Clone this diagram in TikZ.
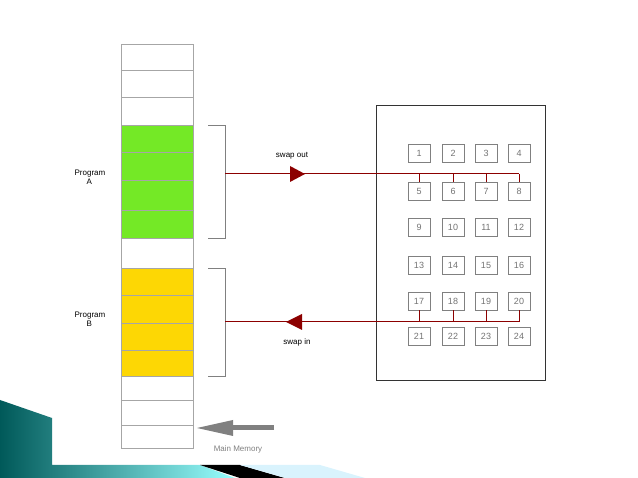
\documentclass[tikz,border=0pt]{standalone}
\usepackage{fontspec}
\setmainfont{Liberation Sans}
\begin{document}
\begin{tikzpicture}[x=1pt,y=-1pt,
  mem/.style={draw=gray!70,line width=0.8pt},
  cell/.style={draw=gray,line width=0.6pt,minimum width=22pt,minimum height=18pt,inner sep=0pt,font=\fontsize{9}{10}\selectfont,text=gray!90!black},
  swap/.style={draw=red!55!black,line width=1pt},
  lbl/.style={font=\fontsize{8}{9}\selectfont,align=left}]
\useasboundingbox (0,0) rectangle (638,478);
% background swoosh
\shade[left color=teal!70!black,right color=cyan!40!white] (0,400) -- (52,418) -- (52,465) -- (200,465) -- (235,478) -- (0,478) -- cycle;
\fill[black] (200,465) -- (240,465) -- (285,478) -- (240,478) -- cycle;
\fill[cyan!15] (240,465) -- (320,465) -- (365,478) -- (285,478) -- cycle;
% memory
\fill[green!60!yellow!90!black!85] (121,125) rectangle (193,238);
\fill[yellow!75!orange] (121,268) rectangle (193,376);
\foreach \a/\b in {44/70,70/97,97/125,125/152,152/180,180/210,210/238,238/268,268/295,295/323,323/350,350/376,376/400,400/425,425/448}
  \draw[mem] (121,\a) rectangle (193,\b);
\node[lbl] (pa) at (90,177) {Program\\\hspace*{12pt}A};
\node[lbl] (pb) at (90,319) {Program\\\hspace*{12pt}B};
% brackets
\draw[gray,line width=0.8pt] (208,125) -- (225,125) -- (225,238) -- (208,238);
\draw[gray,line width=0.8pt] (208,268) -- (225,268) -- (225,376) -- (208,376);
% disk box
\draw[black!80,line width=0.9pt] (376,105) rectangle (545,380);
\foreach \r/\y in {0/153,1/191,2/227,3/265,4/301,5/336}
  \foreach \c/\x in {1/419,2/453,3/486,4/519}{
    \pgfmathtruncatemacro{\n}{\r*4+\c}
    \node[cell] (c\n) at (\x,\y) {\n};
  }
% swap out
\coordinate (so) at (225,174);
\draw[swap] (so) -- (c8.north |- so);
\foreach \i in {5,6,7,8} \draw[swap] (c\i.north |- so) -- (c\i.north);
\fill[red!55!black] (305,174) -- (290,166) -- (290,182) -- cycle;
\node[font=\fontsize{8}{9}\selectfont] (tso) at (292,156) {swap out};
% swap in
\coordinate (si) at (225,322);
\draw[swap] (si) -- (c20.south |- si);
\foreach \i in {17,18,19,20} \draw[swap] (c\i.south) -- (c\i.south |- si);
\fill[red!55!black] (286,322) -- (302,314) -- (302,330) -- cycle;
\node[font=\fontsize{8}{9}\selectfont] (tsi) at (297,342) {swap in};
% main memory arrow
\coordinate (ma) at (274,428);
\coordinate (mb) at (197,428);
\draw[gray,line width=5pt] (ma) -- (230,428);
\fill[gray] (197,428) -- (233,420) -- (233,436) -- cycle;
\node[font=\fontsize{8}{9}\selectfont,text=gray] (mm) at (238,449) {Main Memory};
\end{tikzpicture}
\end{document}
